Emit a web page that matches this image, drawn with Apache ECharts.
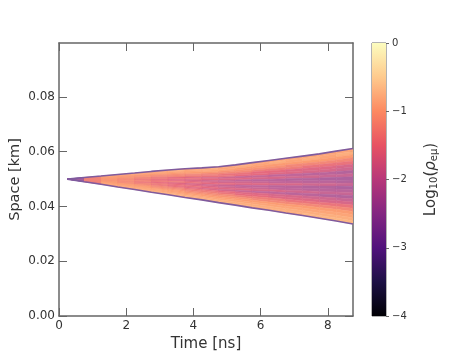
<!DOCTYPE html>
<html>
<head>
<meta charset="utf-8">
<style>
  html, body { margin: 0; padding: 0; background: #fff; }
  #main-chart { width: 474px; height: 355px; filter: blur(0.4px); }
</style>
<script src="https://cdn.jsdelivr.net/npm/echarts@6/dist/echarts.min.js"></script>
</head>
<body>
<div id="main-chart"></div>
<script>
const xTicks = [0, 2, 4, 6, 8];
const yTicks = [0, 0.02, 0.04, 0.06, 0.08];
const barTicks = [-4, -3, -2, -1, 0];

// column edges of the wedge
const times = [0.25, 0.75, 1.25, 1.75, 2.25, 2.75, 3.25, 3.75, 4.25, 4.75, 5.25, 5.75, 6.25, 6.75, 7.25, 7.75, 8.25, 8.75];
const upperEdge = [0.0500, 0.0506, 0.0511, 0.0517, 0.0522, 0.0528, 0.0533, 0.0538, 0.0541, 0.0545, 0.0552, 0.0560, 0.0568, 0.0576, 0.0584, 0.0592, 0.0602, 0.0612];
const lowerEdge = [0.0500, 0.0490, 0.0481, 0.0471, 0.0462, 0.0452, 0.0443, 0.0433, 0.0424, 0.0414, 0.0405, 0.0395, 0.0386, 0.0376, 0.0367, 0.0357, 0.0347, 0.0336];

// log10(rho), one line per time column, values run from the top edge to the bottom edge
const rho = [
  [-2.6, -2.6, -2.5, -2.5, -2.5, -2.5, -2.4, -2.4, -2.4, -2.4, -2.4, -2.4, -2.4, -2.4, -2.4, -2.4, -2.4, -2.5, -2.5, -2.5, -2.5, -2.6, -2.6, -2.6],
  [-1.4, -1.3, -1.3, -1.3, -1.2, -1.3, -1.2, -1.3, -1.2, -1.3, -1.3, -1.2, -1.3, -1.2, -1.3, -1.2, -1.3, -1.2, -1.3, -1.3, -1.3, -1.3, -1.4, -1.4],
  [-1.0, -0.9, -0.9, -0.9, -1.0, -1.0, -1.0, -1.1, -1.0, -1.1, -1.1, -1.0, -1.1, -1.1, -1.0, -1.1, -1.0, -1.0, -1.0, -0.9, -0.9, -0.9, -0.9, -1.0],
  [-0.9, -0.9, -0.9, -1.0, -1.0, -1.1, -1.0, -1.2, -1.1, -1.2, -1.2, -1.1, -1.2, -1.2, -1.1, -1.2, -1.1, -1.0, -1.0, -1.0, -0.9, -0.9, -0.8, -0.9],
  [-0.9, -0.9, -0.9, -1.0, -1.1, -1.1, -1.1, -1.3, -1.2, -1.4, -1.3, -1.2, -1.3, -1.4, -1.2, -1.3, -1.1, -1.1, -1.0, -1.0, -0.9, -0.9, -0.8, -0.9],
  [-0.9, -0.9, -0.9, -1.0, -1.1, -1.2, -1.2, -1.4, -1.3, -1.5, -1.4, -1.3, -1.5, -1.4, -1.3, -1.4, -1.2, -1.2, -1.1, -1.0, -0.9, -0.9, -0.8, -0.8],
  [-0.9, -0.8, -0.9, -1.0, -1.1, -1.2, -1.2, -1.5, -1.4, -1.6, -1.5, -1.3, -1.6, -1.5, -1.4, -1.5, -1.3, -1.2, -1.1, -1.0, -1.0, -0.9, -0.8, -0.8],
  [-0.9, -0.9, -0.9, -1.0, -1.1, -1.3, -1.3, -1.6, -1.4, -1.7, -1.6, -1.4, -1.7, -1.6, -1.4, -1.6, -1.4, -1.3, -1.2, -1.1, -1.0, -0.9, -0.8, -0.8],
  [-0.9, -0.8, -0.9, -1.0, -1.2, -1.3, -1.4, -1.7, -1.5, -1.8, -1.7, -1.5, -1.8, -1.7, -1.5, -1.7, -1.4, -1.3, -1.2, -1.1, -1.0, -0.9, -0.8, -0.8],
  [-0.9, -0.9, -0.9, -1.1, -1.2, -1.4, -1.4, -1.8, -1.6, -1.9, -1.8, -1.5, -1.9, -1.8, -1.6, -1.8, -1.5, -1.4, -1.2, -1.1, -1.0, -0.9, -0.8, -0.8],
  [-0.9, -0.8, -1.0, -1.1, -1.2, -1.4, -1.5, -1.9, -1.6, -2.0, -1.8, -1.6, -2.0, -1.9, -1.6, -1.9, -1.6, -1.5, -1.3, -1.1, -1.0, -0.9, -0.8, -0.8],
  [-0.9, -0.9, -1.0, -1.1, -1.3, -1.5, -1.5, -1.9, -1.7, -2.1, -1.9, -1.6, -2.0, -1.9, -1.7, -2.0, -1.6, -1.5, -1.3, -1.2, -1.0, -0.9, -0.8, -0.8],
  [-0.9, -0.8, -1.0, -1.1, -1.3, -1.5, -1.6, -2.0, -1.7, -2.1, -2.0, -1.7, -2.1, -2.0, -1.7, -2.0, -1.7, -1.6, -1.3, -1.2, -1.0, -0.9, -0.8, -0.8],
  [-0.9, -0.9, -1.0, -1.2, -1.3, -1.6, -1.6, -2.0, -1.8, -2.2, -2.0, -1.7, -2.1, -2.0, -1.8, -2.1, -1.7, -1.6, -1.4, -1.2, -1.0, -0.9, -0.8, -0.8],
  [-0.9, -0.8, -1.0, -1.2, -1.4, -1.6, -1.7, -2.1, -1.8, -2.2, -2.1, -1.8, -2.2, -2.1, -1.8, -2.1, -1.8, -1.6, -1.4, -1.2, -1.0, -0.9, -0.8, -0.7],
  [-0.9, -0.9, -1.0, -1.2, -1.4, -1.6, -1.7, -2.1, -1.9, -2.3, -2.1, -1.8, -2.2, -2.1, -1.9, -2.2, -1.8, -1.7, -1.4, -1.2, -1.0, -0.9, -0.8, -0.7],
  [-0.9, -0.8, -1.0, -1.2, -1.4, -1.7, -1.8, -2.2, -1.9, -2.3, -2.2, -1.9, -2.3, -2.1, -1.9, -2.2, -1.9, -1.7, -1.4, -1.2, -1.0, -0.9, -0.8, -0.7]
];

const magma = ['#000004', '#1c1044', '#51127c', '#832681', '#b73779', '#e75263', '#fc8961', '#feca8d', '#fcfdbf'];
// the wedge in the picture is washed out compared to the colour bar
const magmaFaded = ['#333336', '#493f69', '#744196', '#a060a0', '#c0669a', '#e66a7e', '#fb9c72', '#fec88f', '#fdfdcc'];

const cells = [];
rho.forEach((col, i) => col.forEach((v, j) => cells.push([i, j, v])));
const rowCount = rho[0].length;

function edgeAt(i, j) {
  return upperEdge[i] + (lowerEdge[i] - upperEdge[i]) * j / rowCount;
}

function renderCell(params, api) {
  const i = api.value(0), j = api.value(1);
  const points = [
    api.coord([times[i], edgeAt(i, j)]),
    api.coord([times[i + 1], edgeAt(i + 1, j)]),
    api.coord([times[i + 1], edgeAt(i + 1, j + 1)]),
    api.coord([times[i], edgeAt(i, j + 1)])
  ];
  const color = api.visual('color');
  return {
    type: 'polygon',
    shape: { points: points },
    style: { fill: color, stroke: color, lineWidth: 0.5 }
  };
}

const axisColor = '#666';
const textColor = '#333';
const fontFamily = '"DejaVu Sans", sans-serif';
const lineStyle = { color: axisColor, width: 1.5 };

const mainChart = echarts.init(document.getElementById('main-chart'), null, { renderer: 'canvas' });
mainChart.setOption({
  animation: false,
  backgroundColor: '#fff',
  textStyle: { fontFamily: fontFamily },
  grid: [
    { left: 59, right: 121, top: 43, bottom: 39, outerBoundsMode: 'none' },
    { left: 372, right: 88, top: 43, bottom: 39, outerBoundsMode: 'none', show: true, borderColor: axisColor, borderWidth: 1, backgroundColor: 'transparent' }
  ],
  visualMap: {
    show: false,
    seriesIndex: 0,
    dimension: 2,
    min: -4,
    max: 0,
    inRange: { color: magmaFaded }
  },
  xAxis: [
    {
      type: 'value', gridIndex: 0, min: 0, max: 8.75,
      name: 'Time [ns]', nameLocation: 'middle', nameGap: 21,
      nameTextStyle: { fontSize: 15, color: textColor },
      splitLine: { show: false },
      axisLine: { onZero: false, lineStyle: lineStyle },
      axisTick: { inside: true, length: 8, customValues: xTicks, lineStyle: { color: axisColor, width: 1 } },
      axisLabel: { fontSize: 12, color: textColor, margin: 4, customValues: xTicks }
    },
    {
      type: 'value', gridIndex: 0, position: 'top', min: 0, max: 8.75,
      splitLine: { show: false },
      axisLine: { onZero: false, lineStyle: lineStyle },
      axisTick: { inside: true, length: 8, customValues: xTicks, lineStyle: { color: axisColor, width: 1 } },
      axisLabel: { show: false }
    },
    {
      type: 'category', gridIndex: 1, data: ['rho'],
      axisLine: { show: false }, axisTick: { show: false }, axisLabel: { show: false }
    }
  ],
  yAxis: [
    {
      type: 'value', gridIndex: 0, min: 0, max: 0.0997,
      name: 'Space [km]', nameLocation: 'middle', nameGap: 36, nameMoveOverlap: false,
      nameTextStyle: { fontSize: 14.5, color: textColor },
      splitLine: { show: false },
      axisLine: { onZero: false, lineStyle: lineStyle },
      axisTick: { inside: true, length: 8, customValues: yTicks, lineStyle: { color: axisColor, width: 1 } },
      axisLabel: { fontSize: 12, color: textColor, margin: 4, customValues: yTicks, formatter: v => v.toFixed(2) }
    },
    {
      type: 'value', gridIndex: 0, position: 'right', min: 0, max: 0.0997,
      splitLine: { show: false },
      axisLine: { onZero: false, lineStyle: lineStyle },
      axisTick: { inside: true, length: 8, customValues: yTicks, lineStyle: { color: axisColor, width: 1 } },
      axisLabel: { show: false }
    },
    {
      type: 'value', gridIndex: 1, position: 'right', min: -4, max: 0, interval: 1,
      name: '{a|Log}{s|10}{a|(}{i|ρ}{s|eμ}{a|)}', nameLocation: 'middle', nameGap: 37, nameRotate: 90,
      nameTextStyle: {
        color: textColor,
        rich: {
          a: { fontSize: 15, color: textColor },
          i: { fontSize: 15, color: textColor, fontStyle: 'italic' },
          s: { fontSize: 10, color: textColor, verticalAlign: 'bottom', padding: [6, 0, 0, 0] }
        }
      },
      splitLine: { show: false },
      axisLine: { show: false },
      axisTick: { show: true, length: 3, lineStyle: { color: axisColor, width: 1 } },
      axisLabel: { fontSize: 10, color: textColor, margin: 6, formatter: v => (v < 0 ? '\u2212' + Math.abs(v) : String(v)) }
    }
  ],
  series: [
    {
      type: 'custom',
      xAxisIndex: 0,
      yAxisIndex: 0,
      renderItem: renderCell,
      encode: { x: 0, y: 1 },
      data: cells,
      clip: true,
      z: 2
    },
    {
      type: 'line',
      xAxisIndex: 0,
      yAxisIndex: 0,
      data: times.map((t, i) => [t, upperEdge[i]]),
      showSymbol: false,
      lineStyle: { color: '#7f5b9e', width: 1.6 },
      z: 3
    },
    {
      type: 'line',
      xAxisIndex: 0,
      yAxisIndex: 0,
      data: times.map((t, i) => [t, lowerEdge[i]]),
      showSymbol: false,
      lineStyle: { color: '#7f5b9e', width: 1.6 },
      z: 3
    },
    {
      type: 'bar',
      xAxisIndex: 2,
      yAxisIndex: 2,
      barWidth: '100%',
      data: [barTicks[0]],
      itemStyle: {
        color: new echarts.graphic.LinearGradient(0, 0, 0, 1,
          magma.map((c, i) => ({ offset: 1 - i / (magma.length - 1), color: c })).reverse())
      }
    }
  ]
});
</script>
</body>
</html>
